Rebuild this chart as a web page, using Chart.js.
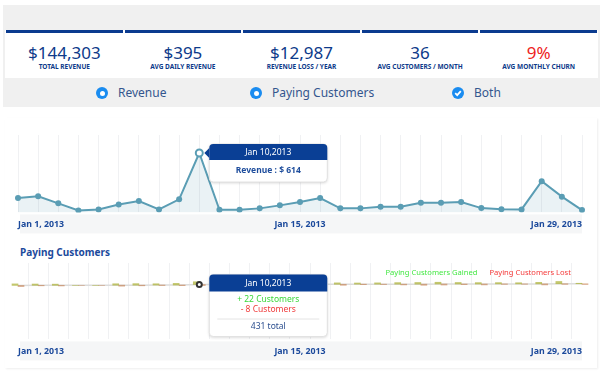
<!DOCTYPE html>
<html>
<head>
<meta charset="utf-8">
<script src="https://cdn.jsdelivr.net/npm/chart.js@4.4.0/dist/chart.umd.min.js"></script>
<style>
  body { margin: 0; width: 604px; height: 376px; background: #fff; font-family: 'Noto Sans', sans-serif; overflow: hidden; position: relative; }
  .panel { position: absolute; left: 3px; top: 5px; width: 597px; height: 102px; background: #f0f0f0; }
  .kpis { position: absolute; left: 2px; top: 25px; width: 593px; height: 48px; background: #fff; display: flex; }
  .kpi { flex: 1; margin: 0 1px; border-top: 3px solid #0b3b8f; text-align: center; color: #0d3a8a; }
  .kpi .v { font-size: 17px; line-height: 19px; padding-top: 10px; }
  .kpi .l { font-size: 6.5px; font-weight: bold; line-height: 9px; }
  .kpi .red { color: #ee2222; }
  .radio { position: absolute; top: 81px; height: 24px; line-height: 24px; font-size: 12px; color: #34568e; }
  .dot { position: absolute; top: 6px; width: 12px; height: 12px; border-radius: 50%; background: #1a8cf0; }
  .dot.ring::after { content: ''; position: absolute; left: 3.5px; top: 3.5px; width: 5px; height: 5px; border-radius: 50%; background: #fff; }
  .dot svg { position: absolute; left: 0; top: 0; }
  .title { position: absolute; left: 20px; top: 245px; font-size: 10px; font-weight: bold; color: #1c4a9c; }
  .card { position: absolute; left: 5px; top: 118px; width: 592px; height: 250px; box-shadow: 1px 1px 2px rgba(0,0,0,0.07); }
  .wrap { position: absolute; left: 0; width: 604px; }
</style>
</head>
<body>
<div class="panel">
  <div class="kpis">
    <div class="kpi"><div class="v">$144,303</div><div class="l">TOTAL REVENUE</div></div>
    <div class="kpi"><div class="v">$395</div><div class="l">AVG DAILY REVENUE</div></div>
    <div class="kpi"><div class="v">$12,987</div><div class="l">REVENUE LOSS / YEAR</div></div>
    <div class="kpi"><div class="v">36</div><div class="l">AVG CUSTOMERS / MONTH</div></div>
    <div class="kpi"><div class="v red">9%</div><div class="l">AVG MONTHLY CHURN</div></div>
  </div>
</div>
<div class="radio" style="left:96px"><span class="dot ring" style="left:0"></span><span style="margin-left:22px">Revenue</span></div>
<div class="radio" style="left:250px"><span class="dot ring" style="left:0"></span><span style="margin-left:22px">Paying Customers</span></div>
<div class="radio" style="left:452px"><span class="dot" style="left:0"><svg width="12" height="12" viewBox="0 0 12 12"><path d="M3.2 6.2 L5.2 8.1 L8.8 4.2" stroke="#fff" stroke-width="1.8" fill="none"/></svg></span><span style="margin-left:22px">Both</span></div>

<div class="card"></div>
<div class="wrap" style="top:120px;height:120px"><canvas id="revenueChart"></canvas></div>
<div class="title">Paying Customers</div>
<div class="wrap" style="top:255px;height:110px"><canvas id="customerChart"></canvas></div>

<script>
const dates = ['Jan 1, 2013', 'Jan 2, 2013', 'Jan 3, 2013', 'Jan 4, 2013', 'Jan 5, 2013', 'Jan 6, 2013', 'Jan 7, 2013', 'Jan 8, 2013', 'Jan 9, 2013', 'Jan 10, 2013',
  'Jan 11, 2013', 'Jan 12, 2013', 'Jan 13, 2013', 'Jan 14, 2013', 'Jan 15, 2013', 'Jan 16, 2013', 'Jan 17, 2013', 'Jan 18, 2013', 'Jan 19, 2013', 'Jan 20, 2013',
  'Jan 21, 2013', 'Jan 22, 2013', 'Jan 23, 2013', 'Jan 24, 2013', 'Jan 25, 2013', 'Jan 26, 2013', 'Jan 27, 2013', 'Jan 28, 2013', 'Jan 29, 2013'];
const tickDates = ['Jan 1, 2013', 'Jan 15, 2013', 'Jan 29, 2013'];

const revenue = [149, 166, 94, 21, 31, 83, 118, 31, 135, 614, 28, 28, 42, 73, 107, 149, 42, 42, 59, 59, 101, 101, 107, 45, 34, 31, 323, 163, 24];

const customersTotal = [424, 425, 425, 425, 425, 426, 426, 427, 427, 431, 431, 432, 432, 432, 433, 433, 433, 434, 434, 434, 434, 435, 435, 435, 436, 436, 436, 437, 437];
const customersGained = [12, 10, 9, 0, 0, 11, 12, 10, 13, 22, 14, 12, 11, 9, 10, 8, 11, 9, 10, 12, 13, 14, 12, 11, 10, 9, 12, 18, 4];
const customersLost = [9, 4, 5, 0, 0, 8, 5, 4, 5, 8, 6, 5, 4, 3, 5, 7, 8, 4, 3, 6, 9, 8, 5, 7, 4, 3, 8, 5, 6];

const activeIndex = 9;

const teal = '#5a9db4';
const navy = '#0a3f95';
const tickBlue = '#1c4a9c';
const font = '"Noto Sans", sans-serif';

// grey band behind the date labels
const labelBand = {
  id: 'labelBand',
  beforeDraw(chart) {
    const a = chart.chartArea, ctx = chart.ctx;
    ctx.save();
    ctx.fillStyle = '#f5f6f7';
    ctx.fillRect(a.left + 2, a.bottom + 2, a.right - a.left - 2, 19);
    ctx.restore();
  }
};

function tipBox(ctx, x, y, w, h, hh, title) {
  ctx.save();
  ctx.shadowColor = 'rgba(0,0,0,0.18)';
  ctx.shadowBlur = 3;
  ctx.shadowOffsetY = 1;
  ctx.fillStyle = '#fff';
  ctx.beginPath();
  ctx.roundRect(x, y, w, h, 4);
  ctx.fill();
  ctx.shadowColor = 'transparent';
  ctx.strokeStyle = '#e2e2e2';
  ctx.lineWidth = 1;
  ctx.stroke();
  ctx.fillStyle = navy;
  ctx.beginPath();
  ctx.roundRect(x, y, w, hh, [4, 4, 0, 0]);
  ctx.fill();
  ctx.fillStyle = '#fff';
  ctx.font = '8.5px ' + font;
  ctx.textAlign = 'center';
  ctx.textBaseline = 'middle';
  ctx.fillText(title, x + w / 2, y + hh / 2 + 0.5);
  ctx.restore();
}

function tipTitle(i) {
  return dates[i].replace(', ', ',');
}

const revenueTip = {
  id: 'revenueTip',
  afterDraw(chart) {
    const pt = chart.getDatasetMeta(0).data[activeIndex];
    const ctx = chart.ctx;
    const x = pt.x + 10, y = pt.y - 9, w = 118, h = 38;
    tipBox(ctx, x, y, w, h, 16, tipTitle(activeIndex));
    ctx.save();
    ctx.fillStyle = navy;
    ctx.beginPath();
    ctx.moveTo(x, pt.y - 5);
    ctx.lineTo(x - 5, pt.y);
    ctx.lineTo(x, pt.y + 5);
    ctx.fill();
    ctx.fillStyle = '#1e4d9c';
    ctx.font = 'bold 8.5px ' + font;
    ctx.textAlign = 'center';
    ctx.textBaseline = 'middle';
    ctx.fillText('Revenue : $ ' + revenue[activeIndex], x + w / 2, y + 27);
    ctx.restore();
  }
};

const customerTip = {
  id: 'customerTip',
  afterDraw(chart) {
    const pt = chart.getDatasetMeta(0).data[activeIndex];
    const ctx = chart.ctx;
    // hovered point
    ctx.save();
    ctx.beginPath();
    ctx.arc(pt.x, pt.y, 2.5, 0, Math.PI * 2);
    ctx.fillStyle = '#fff';
    ctx.fill();
    ctx.lineWidth = 2;
    ctx.strokeStyle = '#333';
    ctx.stroke();
    ctx.restore();

    const x = pt.x + 10, y = pt.y - 10, w = 118, h = 62;
    tipBox(ctx, x, y, w, h, 17, tipTitle(activeIndex));
    ctx.save();
    ctx.font = '8.5px ' + font;
    ctx.textAlign = 'center';
    ctx.textBaseline = 'middle';
    ctx.fillStyle = '#3ad83a';
    ctx.fillText('+ ' + customersGained[activeIndex] + ' Customers', x + w / 2, y + 25);
    ctx.fillStyle = '#f03a3a';
    ctx.fillText('- ' + customersLost[activeIndex] + ' Customers', x + w / 2, y + 35);
    ctx.strokeStyle = '#e4e4e4';
    ctx.beginPath();
    ctx.moveTo(x + 8, y + 44.5);
    ctx.lineTo(x + w - 8, y + 44.5);
    ctx.stroke();
    ctx.fillStyle = '#2c4f8f';
    ctx.fillText(customersTotal[activeIndex] + ' total', x + w / 2, y + 52);
    ctx.restore();
  }
};

// legend text inside the plot, top right
const innerLegend = {
  id: 'innerLegend',
  afterDatasetsDraw(chart) {
    const ctx = chart.ctx, a = chart.chartArea;
    ctx.save();
    ctx.font = '7.6px ' + font;
    ctx.textAlign = 'right';
    ctx.textBaseline = 'middle';
    let x = a.right - 11;
    const items = chart.data.datasets.filter(d => d.legendColor).reverse();
    items.forEach(d => {
      ctx.fillStyle = d.legendColor;
      ctx.fillText(d.label, x, a.top + 10);
      x -= ctx.measureText(d.label).width + 12;
    });
    ctx.restore();
  }
};

function xAxis() {
  return {
    offset: false,
    grid: { color: '#f0f1f3', drawTicks: false },
    border: { display: false },
    ticks: {
      autoSkip: false,
      maxRotation: 0,
      align: 'inner',
      padding: 7,
      color: tickBlue,
      font: { family: font, size: 8.8, weight: 'bold' },
      callback: (v, i) => tickDates.includes(dates[i]) ? dates[i] : ''
    }
  };
}

new Chart(document.getElementById('revenueChart'), {
  type: 'line',
  data: {
    labels: dates,
    datasets: [{
      label: 'Revenue',
      data: revenue,
      borderColor: teal,
      borderWidth: 2,
      tension: 0,
      fill: 'origin',
      backgroundColor: 'rgba(90,157,180,0.13)',
      pointRadius: c => c.dataIndex === activeIndex ? 3.5 : 3,
      pointBorderWidth: c => c.dataIndex === activeIndex ? 2 : 0,
      pointBackgroundColor: c => c.dataIndex === activeIndex ? '#fff' : teal,
      pointBorderColor: teal
    }]
  },
  options: {
    responsive: true,
    maintainAspectRatio: false,
    animation: false,
    events: [],
    layout: { padding: { left: 18, right: 22, top: 15, bottom: 3 } },
    scales: {
      x: xAxis(),
      y: { display: false, min: 0, max: 800 }
    },
    plugins: { legend: { display: false }, tooltip: { enabled: false } }
  },
  plugins: [labelBand, revenueTip]
});

new Chart(document.getElementById('customerChart'), {
  type: 'line',
  data: {
    labels: dates,
    datasets: [{
      label: 'Paying Customers',
      data: customersTotal,
      borderColor: '#dcdcdc',
      borderWidth: 1.5,
      pointRadius: 0,
      order: 2
    }, {
      type: 'bar',
      label: 'Paying Customers Gained',
      legendColor: '#44e844',
      data: customersTotal.map((t, i) => [t, t + customersGained[i]]),
      backgroundColor: 'rgba(175,180,60,0.75)',
      barThickness: 6,
      clip: false,
      order: 1
    }, {
      type: 'bar',
      label: 'Paying Customers Lost',
      legendColor: '#f53a3a',
      data: customersTotal.map((t, i) => [t - customersLost[i], t]),
      backgroundColor: 'rgba(195,120,70,0.6)',
      barThickness: 6,
      clip: false,
      order: 1
    }]
  },
  options: {
    responsive: true,
    maintainAspectRatio: false,
    animation: false,
    events: [],
    layout: { padding: { left: 18, right: 22, top: 8, bottom: 1 } },
    scales: {
      x: xAxis(),
      y: { display: false, min: 0, max: 600 }
    },
    plugins: { legend: { display: false }, tooltip: { enabled: false } }
  },
  plugins: [labelBand, innerLegend, customerTip]
});
</script>
</body>
</html>
